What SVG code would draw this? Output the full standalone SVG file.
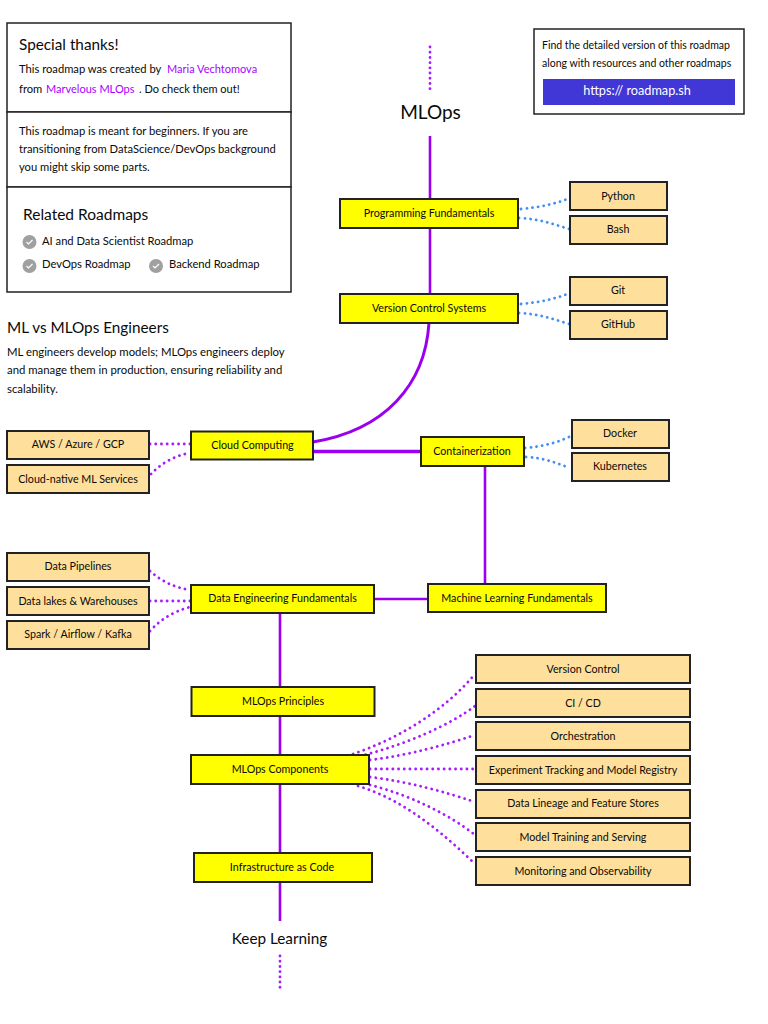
<svg xmlns="http://www.w3.org/2000/svg" width="768" height="1024" viewBox="0 0 768 1024">
<style>
text{font-family:"Lato","Noto Sans","Liberation Sans",sans-serif;fill:#0a0a0a;font-size:10.7px}
.c{text-anchor:middle}
.i{font-size:11.2px}
.w{font-size:11.35px}
.a{font-size:10.5px}
.m{fill:#ffff00;stroke:#222;stroke-width:2}
.s{fill:#fedf9b;stroke:#222;stroke-width:2}
.b{fill:#fff;stroke:#222;stroke-width:1.5}
.l{fill:none;stroke:#9a00f0;stroke-width:2.6}
.d{fill:none;stroke:#a61cff;stroke-width:2.8;stroke-dasharray:.1 5.6;stroke-linecap:round}
.e{fill:none;stroke:#3f8ff5;stroke-width:2.8;stroke-dasharray:.1 5.6;stroke-linecap:round}
.p{fill:#a900ff;font-size:11px}
.h{font-size:15.3px}
.k{fill:#a0a0a0}
.t{fill:none;stroke:#fff;stroke-width:1.2}
</style>
<g id="connectors">
<path class="d" style="stroke-dasharray:.1 5.1" d="M430 47V93"/>
<path class="l" d="M430 136V294"/>
<path class="l" style="stroke-width:3" d="M429 323C425 385 385 430 313 442"/>
<path class="l" style="stroke-width:3.600" d="M313 451.500H421"/>
<path class="l" d="M485 466V584"/>
<path class="l" d="M373 599H428"/>
<path class="l" d="M280 613V855"/>
<path class="l" d="M280 882V921"/>
<path class="d" style="stroke-dasharray:.1 5.1" d="M280 956V991"/>
<path class="e" d="M521 209C540 207 552 205 570 198"/>
<path class="e" d="M519 218C540 219 553 224 569 229"/>
<path class="e" d="M521 304C540 302 552 300 570 293"/>
<path class="e" d="M519 313C540 314 553 319 569 324"/>
<path class="e" d="M525 448C545 446 556 443 571 436"/>
<path class="e" d="M526 457C545 458 556 463 570 468"/>
<path class="d" d="M150 444H190"/>
<path class="d" d="M151 474C160 465 172 456 190 453"/>
<path class="d" d="M150 571C160 580 172 587 190 590"/>
<path class="d" d="M150 601H190"/>
<path class="d" d="M150 631C160 620 172 612 190 607"/>
<path class="d" d="M353 754C400 738 445 710 475 674"/>
<path class="d" d="M360 756C405 745 450 725 475 706"/>
<path class="d" d="M370 760C410 755 445 745 475 735"/>
<path class="d" d="M370 769H475"/>
<path class="d" d="M370 777C410 782 445 792 475 802"/>
<path class="d" d="M370 785C410 795 450 815 475 835"/>
<path class="d" d="M358 786C405 800 445 835 475 864"/>
</g>
<g id="info"><rect class="b" x="7" y="23" width="284" height="89"/>
<text class="h" x="19" y="50">Special thanks!</text>
<text class="i" x="19" y="73">This roadmap was created by</text>
<text class="p" x="167" y="73">Maria Vechtomova</text>
<text class="i" x="19" y="93">from</text>
<text class="p" x="46" y="93">Marvelous MLOps</text>
<text class="p" x="139" y="93" style="fill:#0a0a0a">. Do check them out!</text></g>
<g id="beginners"><rect class="b" x="7" y="112" width="284" height="75"/>
<text class="i" x="19" y="135">This roadmap is meant for beginners. If you are</text>
<text class="i" x="19" y="153">transitioning from DataScience/DevOps background</text>
<text class="i" x="19" y="171">you might skip some parts.</text></g>
<g id="related"><rect class="b" x="7" y="187" width="284" height="105"/>
<text class="h" x="23" y="220" style="font-size:15.500px">Related Roadmaps</text>
<circle class="k" cx="29.500" cy="242" r="7"/><path class="t" d="M26.500 242l2 2 4-4"/>
<text class="i" x="42" y="245">AI and Data Scientist Roadmap</text>
<circle class="k" cx="29.500" cy="266" r="7"/><path class="t" d="M26.500 266l2 2 4-4"/>
<text class="i" x="42" y="268">DevOps Roadmap</text>
<circle class="k" cx="156" cy="266" r="7"/><path class="t" d="M153 266l2 2 4-4"/>
<text class="i" x="169" y="268">Backend Roadmap</text></g>
<g id="engineers"><text class="h" x="7" y="333">ML vs MLOps Engineers</text>
<text class="w" x="7" y="356">ML engineers develop models; MLOps engineers deploy</text>
<text class="w" x="7" y="374">and manage them in production, ensuring reliability and</text>
<text class="w" x="7" y="393">scalability.</text></g>
<g id="cta"><rect class="b" x="534" y="29" width="210" height="85"/>
<text class="a" x="542" y="49">Find the detailed version of this roadmap</text>
<text class="a" x="542" y="67">along with resources and other roadmaps</text>
<rect x="543" y="79" width="192" height="26" fill="#4136d6"/>
<text class="c" x="637" y="95" style="fill:#fff;font-size:12.700px">https:// roadmap.sh</text></g>
<g id="title"><text class="c" x="430.500" y="119" style="font-size:19px">MLOps</text></g>
<g id="keep"><text class="c" x="279.500" y="944" style="font-size:15.300px">Keep Learning</text></g>
<g id="n1"><rect class="m" x="340" y="199" width="178" height="29"/><text class="c" x="429" y="217">Programming Fundamentals</text></g>
<g id="n2"><rect class="m" x="340" y="294" width="178" height="29"/><text class="c" x="429" y="312">Version Control Systems</text></g>
<g id="n3"><rect class="m" x="191" y="431.500" width="122" height="28"/><text class="c" x="252.500" y="449">Cloud Computing</text></g>
<g id="n4"><rect class="m" x="421" y="437" width="103" height="29"/><text class="c" x="472" y="455">Containerization</text></g>
<g id="n5"><rect class="m" x="191" y="585" width="183" height="28"/><text class="c" x="282.500" y="602">Data Engineering Fundamentals</text></g>
<g id="n6"><rect class="m" x="428" y="584" width="178" height="28"/><text class="c" x="517" y="602">Machine Learning Fundamentals</text></g>
<g id="n7"><rect class="m" x="191.500" y="687" width="183" height="29"/><text class="c" x="283" y="705">MLOps Principles</text></g>
<g id="n8"><rect class="m" x="191" y="755" width="178" height="29"/><text class="c" x="280" y="773">MLOps Components</text></g>
<g id="n9"><rect class="m" x="194" y="853" width="178" height="29"/><text class="c" x="282" y="871">Infrastructure as Code</text></g>
<g id="s1"><rect class="s" x="570" y="182" width="97" height="28"/><text class="c" x="618" y="200">Python</text></g>
<g id="s2"><rect class="s" x="570" y="216" width="97" height="28"/><text class="c" x="618" y="233">Bash</text></g>
<g id="s3"><rect class="s" x="570" y="277" width="97" height="28"/><text class="c" x="618" y="294">Git</text></g>
<g id="s4"><rect class="s" x="570" y="311" width="97" height="28"/><text class="c" x="618" y="328">GitHub</text></g>
<g id="s5"><rect class="s" x="572" y="420" width="97" height="28"/><text class="c" x="620" y="437">Docker</text></g>
<g id="s6"><rect class="s" x="572" y="453" width="97" height="28"/><text class="c" x="620" y="470">Kubernetes</text></g>
<g id="s7"><rect class="s" x="7" y="431" width="142" height="28"/><text class="c" x="78" y="448">AWS / Azure / GCP</text></g>
<g id="s8"><rect class="s" x="7" y="465" width="142" height="28"/><text class="c" x="78" y="483">Cloud-native ML Services</text></g>
<g id="s9"><rect class="s" x="7" y="553" width="142" height="28"/><text class="c" x="78" y="570">Data Pipelines</text></g>
<g id="s10"><rect class="s" x="7" y="587" width="142" height="28"/><text class="c" x="78" y="605">Data lakes &amp; Warehouses</text></g>
<g id="s11"><rect class="s" x="7" y="621" width="142" height="28"/><text class="c" x="78" y="638">Spark / Airflow / Kafka</text></g>
<g id="s12"><rect class="s" x="476" y="655" width="214" height="28"/><text class="c" x="583" y="673">Version Control</text></g>
<g id="s13"><rect class="s" x="476" y="689" width="214" height="28"/><text class="c" x="583" y="707">CI / CD</text></g>
<g id="s14"><rect class="s" x="476" y="722" width="214" height="28"/><text class="c" x="583" y="740">Orchestration</text></g>
<g id="s15"><rect class="s" x="476" y="756" width="214" height="28"/><text class="c" x="583" y="774">Experiment Tracking and Model Registry</text></g>
<g id="s16"><rect class="s" x="476" y="790" width="214" height="28"/><text class="c" x="583" y="807">Data Lineage and Feature Stores</text></g>
<g id="s17"><rect class="s" x="476" y="823" width="214" height="28"/><text class="c" x="583" y="841">Model Training and Serving</text></g>
<g id="s18"><rect class="s" x="476" y="857" width="214" height="28"/><text class="c" x="583" y="875">Monitoring and Observability</text></g>
</svg>
